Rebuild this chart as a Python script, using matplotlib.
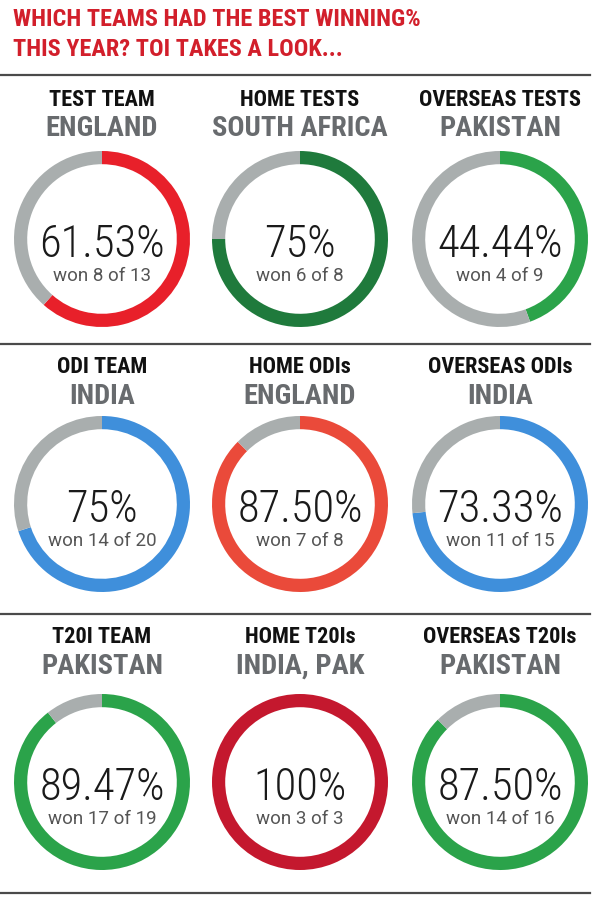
import os
import matplotlib.pyplot as plt
from matplotlib import font_manager
from matplotlib.font_manager import FontProperties

# dados do gráfico
categorias = ['TEST TEAM', 'HOME TESTS', 'OVERSEAS TESTS',
              'ODI TEAM', 'HOME ODIs', 'OVERSEAS ODIs',
              'T20I TEAM', 'HOME T20Is', 'OVERSEAS T20Is']
equipes = ['ENGLAND', 'SOUTH AFRICA', 'PAKISTAN',
           'INDIA', 'ENGLAND', 'INDIA',
           'PAKISTAN', 'INDIA, PAK', 'PAKISTAN']
vitorias = [8, 6, 4, 14, 7, 11, 17, 3, 14]
jogos = [13, 8, 9, 20, 8, 15, 19, 3, 16]
percentuais = ['61.53%', '75%', '44.44%', '75%', '87.50%', '73.33%',
               '89.47%', '100%', '87.50%']
cores = ['#e8202a', '#1f7a3c', '#2ba34a', '#3f8fdb', '#ea4a3a', '#3f8fdb',
         '#2ba34a', '#c4182e', '#2ba34a']

CINZA = '#a9aeae'
W, H = 600, 899

arquivos = [f.fname for f in font_manager.fontManager.ttflist]


# procura um arquivo de fonte pelo nome
def achar(*nomes):
    for n in nomes:
        for f in arquivos:
            if os.path.basename(f).lower() == n.lower():
                return f
    return None


def fonte(padrao, *nomes):
    f = achar(*nomes)
    return FontProperties(fname=f) if f else padrao


fp_black = fonte(FontProperties(family='DejaVu Sans', weight='bold'),
                 'RobotoCondensed-Black.ttf', 'RobotoCondensed-ExtraBold.ttf',
                 'RobotoCondensed-Bold.ttf')
fp_reg = FontProperties(family='Roboto', weight='normal')
fp_pct = fonte(FontProperties(family='Lato'), 'RobotoCondensed-Light.ttf',
               'RobotoCondensed-Regular.ttf')

fig = plt.figure(figsize=(W / 100, H / 100), dpi=100)
fig.patch.set_facecolor('white')


def fy(y):
    return 1 - y / H


# título
for texto, y in [('WHICH TEAMS HAD THE BEST WINNING%', 19), ('THIS YEAR? TOI TAKES A LOOK...', 49)]:
    fig.text(13 / W, fy(y), texto, color='#d21f2b', fontproperties=fp_black,
             fontsize=17.5, va='center', ha='left')

# linhas separadoras
for y in [75, 344, 614, 893]:
    fig.add_artist(plt.Line2D([0, 590 / W], [fy(y), fy(y)], color='#4a4a4a', lw=1.6))

centros_x = [102, 300, 500]
centros_y = [239, 504, 782]
titulos_y = [100, 367, 637]
r = 88

for i in range(9):
    lin, col = divmod(i, 3)
    cx, cy = centros_x[col], centros_y[lin]
    ax = fig.add_axes([(cx - r) / W, fy(cy + r), 2 * r / W, 2 * r / H])
    ax.pie([vitorias[i], jogos[i] - vitorias[i]], colors=[cores[i], CINZA],
           startangle=90, counterclock=False, radius=1,
           wedgeprops=dict(width=0.15, linewidth=0))
    ax.set_xlim(-1, 1)
    ax.set_ylim(-1, 1)
    ax.set_aspect('equal')
    ax.axis('off')
    ax.text(0, -0.07, percentuais[i], ha='center', va='center', fontsize=32,
            fontproperties=fp_pct, color='#1a1a1a')
    ax.text(0, -0.42, f'won {vitorias[i]} of {jogos[i]}', ha='center', va='center',
            fontproperties=fp_reg, fontsize=13.5, color='#555555')

    ty = titulos_y[lin]
    fig.text(cx / W, fy(ty), categorias[i], ha='center', va='center',
             fontproperties=fp_black, fontsize=16, color='#111111')
    fig.text(cx / W, fy(ty + 29), equipes[i], ha='center', va='center',
             fontproperties=fp_black, fontsize=20.5, color='#686b6e')

fig.savefig('out.png', dpi=100, facecolor='white')
